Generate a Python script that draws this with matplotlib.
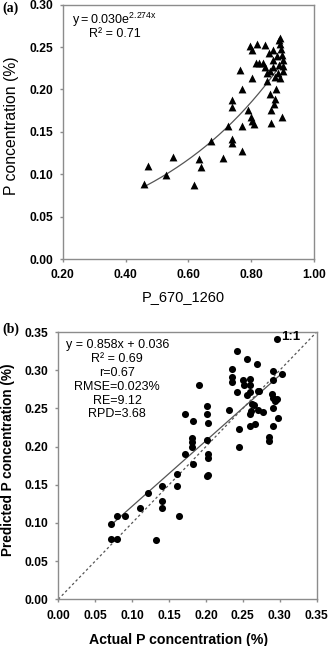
import numpy as np
import matplotlib
matplotlib.use("Agg")
import matplotlib.pyplot as plt

plt.rcParams['font.family'] = ['Liberation Sans', 'DejaVu Sans']
plt.rcParams['mathtext.default'] = 'regular'

# ---- Panel (a) data ----
a_x = [0.460, 0.470, 0.529, 0.550, 0.619, 0.634, 0.640, 0.710, 0.772,
       0.672, 0.725, 0.738, 0.740, 0.772, 0.740, 0.740, 0.764, 0.772,
       0.791, 0.798, 0.804, 0.809, 0.804, 0.797, 0.804, 0.820, 0.815,
       0.826, 0.844, 0.839, 0.844, 0.849, 0.858, 0.860, 0.849, 0.860,
       0.863, 0.862, 0.871, 0.871, 0.876, 0.876, 0.873, 0.879, 0.888,
       0.892, 0.892, 0.895, 0.897, 0.886, 0.892, 0.902, 0.902, 0.900,
       0.897, 0.883, 0.868, 0.889]
a_y = [0.089, 0.110, 0.099, 0.120, 0.087, 0.118, 0.108, 0.119, 0.127,
       0.139, 0.157, 0.141, 0.137, 0.157, 0.188, 0.179, 0.223, 0.201,
       0.176, 0.168, 0.163, 0.159, 0.214, 0.251, 0.246, 0.254, 0.231,
       0.231, 0.252, 0.231, 0.227, 0.220, 0.243, 0.222, 0.210, 0.195,
       0.160, 0.176, 0.247, 0.227, 0.215, 0.189, 0.183, 0.201, 0.258,
       0.261, 0.254, 0.248, 0.241, 0.220, 0.214, 0.235, 0.228, 0.222,
       0.168, 0.239, 0.235, 0.229]
a_fit_a = 0.030
a_fit_b = 2.274
a_fit_range = [0.465, 0.89]
a_xticks = [0.20, 0.40, 0.60, 0.80, 1.00]
a_yticks = [0.00, 0.05, 0.10, 0.15, 0.20, 0.25, 0.30]

# ---- Panel (b) data ----
b_x = [0.071, 0.071, 0.080, 0.080, 0.091, 0.111, 0.121, 0.133, 0.141,
       0.141, 0.141, 0.161, 0.161, 0.163, 0.203, 0.171, 0.172, 0.182,
       0.191, 0.181, 0.181, 0.181, 0.183, 0.201, 0.201, 0.203, 0.201,
       0.203, 0.203, 0.202, 0.231, 0.235, 0.235, 0.235, 0.242, 0.242,
       0.245, 0.245, 0.256, 0.259, 0.259, 0.256, 0.259, 0.259, 0.259,
       0.261, 0.267, 0.263, 0.269, 0.272, 0.271, 0.277, 0.286, 0.286,
       0.291, 0.291, 0.289, 0.291, 0.291, 0.291, 0.296, 0.296, 0.297,
       0.303, 0.294, 0.250, 0.252, 0.270, 0.265]
b_y = [0.099, 0.079, 0.079, 0.109, 0.109, 0.120, 0.139, 0.077, 0.149,
       0.129, 0.120, 0.164, 0.149, 0.109, 0.163, 0.242, 0.190, 0.234,
       0.281, 0.211, 0.206, 0.200, 0.177, 0.253, 0.242, 0.231, 0.209,
       0.190, 0.185, 0.162, 0.248, 0.302, 0.291, 0.284, 0.325, 0.272,
       0.223, 0.200, 0.314, 0.288, 0.280, 0.267, 0.271, 0.227, 0.242,
       0.247, 0.229, 0.256, 0.308, 0.273, 0.248, 0.245, 0.212, 0.207,
       0.299, 0.287, 0.269, 0.264, 0.251, 0.227, 0.341, 0.262, 0.238,
       0.295, 0.259, 0.287, 0.280, 0.273, 0.255]
b_slope = 0.858
b_intercept = 0.036
b_fit_range = [0.07, 0.30]
b_ticks = [0.00, 0.05, 0.10, 0.15, 0.20, 0.25, 0.30, 0.35]
b_stats = ["y = 0.858x + 0.036", "R\u00b2 = 0.69", "r=0.67",
           "RMSE=0.023%", "RE=9.12", "RPD=3.68"]

W, H = 330, 646
fig = plt.figure(figsize=(W / 100, H / 100), dpi=100)

spine_col = '#8c8c8c'


def style_axes(ax):
    for s in ax.spines.values():
        s.set_color(spine_col)
        s.set_linewidth(1.0)
    ax.tick_params(direction='out', length=2, width=1.0, color=spine_col,
                   labelsize=8.7)
    ax.tick_params(axis='x', pad=5.5)
    ax.tick_params(axis='y', pad=5)
    for lbl in ax.get_xticklabels() + ax.get_yticklabels():
        lbl.set_fontweight('bold')


# ---- Panel (a) ----
ax1 = fig.add_axes([62.7 / W, 1 - 259 / H, (314 - 62.7) / W, (259 - 4.7) / H])
ax1.scatter(a_x, a_y, marker='^', s=32, color='black', linewidths=0, zorder=3)
xf = np.linspace(a_fit_range[0], a_fit_range[1], 200)
ax1.plot(xf, a_fit_a * np.exp(a_fit_b * xf), color='#555555', lw=0.9, zorder=2)
ax1.set_xlim(0.2, 1.0)
ax1.set_ylim(0.0, 0.30)
ax1.set_xticks(a_xticks)
ax1.set_yticks(a_yticks)
ax1.set_xticklabels([f"{v:.2f}" for v in a_xticks])
ax1.set_yticklabels([f"{v:.2f}" for v in a_yticks])
style_axes(ax1)
ax1.set_xlabel("P_670_1260", fontsize=10.5, va='center', ha='center')
ax1.xaxis.set_label_coords(0.478, -0.148)
ax1.set_ylabel("P concentration (%)", fontsize=11.3, va='center', ha='center')
ax1.yaxis.set_label_coords(-0.204, 0.523)
ax1.text(0.037, 0.925, r"$\mathregular{y = 0.030e^{2.274x}}$", transform=ax1.transAxes,
         fontsize=9, va='baseline', ha='left')
ax1.text(0.105, 0.872, "R\u00b2 = 0.71", transform=ax1.transAxes,
         fontsize=9, va='baseline', ha='left')
fig.text(2 / W, 1 - 8.5 / H, "(a)", fontsize=10, fontweight='bold',
         family='Liberation Serif', va='center', ha='left')

# ---- Panel (b) ----
ax2 = fig.add_axes([58.3 / W, 1 - 599.3 / H, (316.7 - 58.3) / W, (599.3 - 332) / H])
ax2.scatter(b_x, b_y, marker='o', s=26, color='black', linewidths=0, zorder=3)
ax2.plot(b_ticks[:1] + b_ticks[-1:], b_ticks[:1] + b_ticks[-1:], ls=(0, (2, 2)),
         color='#555555', lw=0.9, zorder=2)
xb = np.array(b_fit_range)
ax2.plot(xb, b_slope * xb + b_intercept, color='#555555', lw=0.9, zorder=2)
ax2.set_xlim(0.0, 0.35)
ax2.set_ylim(0.0, 0.35)
ax2.set_xticks(b_ticks)
ax2.set_yticks(b_ticks)
ax2.set_xticklabels([f"{v:.2f}" for v in b_ticks])
ax2.set_yticklabels([f"{v:.2f}" for v in b_ticks])
style_axes(ax2)
ax2.set_xlabel("Actual P concentration (%)", fontsize=10.2, fontweight='bold',
               va='center', ha='center')
ax2.xaxis.set_label_coords(0.465, -0.152)
ax2.set_ylabel("Predicted P concentration (%)", fontsize=9.8, fontweight='bold',
               va='center', ha='center')
ax2.yaxis.set_label_coords(-0.1935, 0.521)
ax2.text(0.228, 0.972, "\n".join(b_stats), transform=ax2.transAxes,
         fontsize=9, va='top', ha='center', linespacing=1.2)
ax2.text(0.935, 1.005, "1:1", transform=ax2.transAxes, fontsize=9.5,
         fontweight='bold', va='top', ha='right')
fig.text(2 / W, 1 - 329 / H, "(b)", fontsize=10, fontweight='bold',
         family='Liberation Serif', va='center', ha='left')

fig.savefig("out.png", dpi=100)
